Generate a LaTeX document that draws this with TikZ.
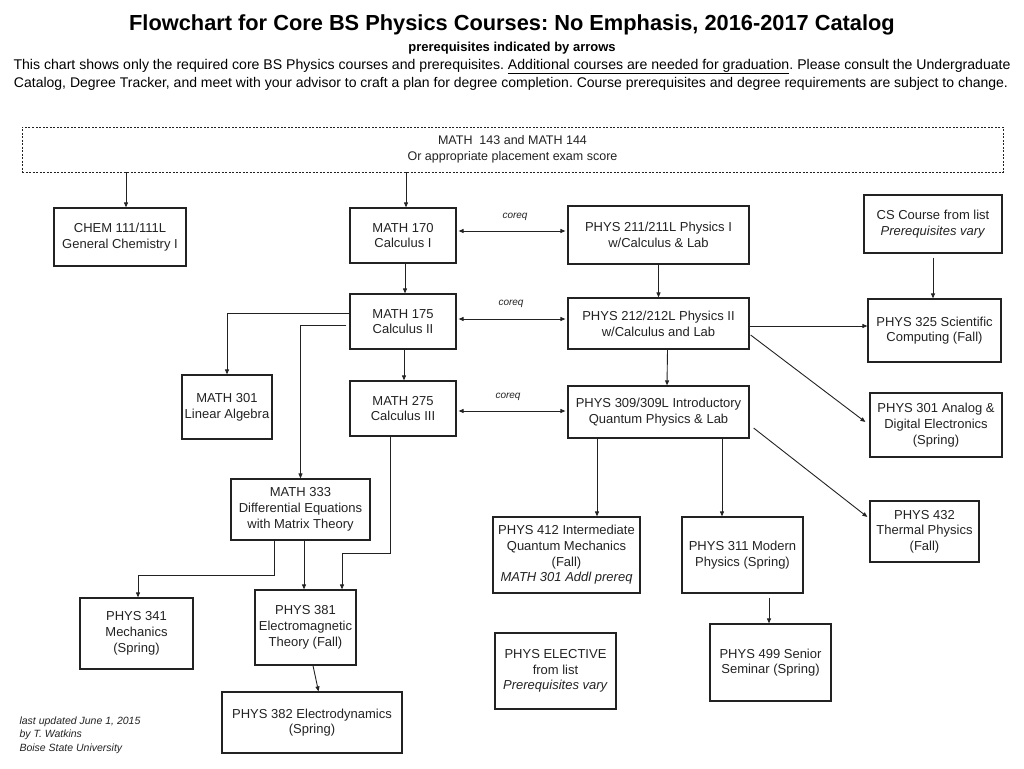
\documentclass[tikz,border=0pt]{standalone}
\usepackage{fontspec}
\setmainfont{Liberation Sans}
\usetikzlibrary{arrows.meta,calc}
\definecolor{ink}{HTML}{222222}
\tikzset{
  box/.style={draw=ink, line width=1.2pt, align=center, inner xsep=1pt, inner ysep=2pt,
    font=\fontsize{13}{15.7}\selectfont, text=ink},
  arr/.style={draw=ink, line width=0.9pt, -{Triangle[length=5pt,width=4pt]}},
  darr/.style={draw=ink, line width=0.9pt, {Triangle[length=5pt,width=4pt]}-{Triangle[length=5pt,width=4pt]}, shorten <=2pt, shorten >=2pt},
  coreqlbl/.style={font=\fontsize{10}{12}\selectfont\itshape, text=ink},
  tbox/.style={draw=ink, line width=0.9pt, dash pattern=on 2pt off 1.5pt, align=center,
    font=\fontsize{12.5}{15.5}\selectfont, text=ink}
}
\frenchspacing
\begin{document}
\begin{tikzpicture}[x=1pt,y=-1pt]
\useasboundingbox (0,0) rectangle (1024,768);
% heading
\node[font=\fontsize{21.8}{24}\selectfont\bfseries, text=black] (title) at (512,25) {Flowchart for Core BS Physics Courses: No Emphasis, 2016-2017 Catalog};
\node[font=\fontsize{13}{15}\selectfont\bfseries, text=black] (sub) at (512,48) {prerequisites indicated by arrows};
\node[font=\fontsize{14.1}{17}\selectfont, text=black, anchor=center] (intro1) at (512,66.5) {This chart shows only the required core BS Physics courses and prerequisites. \underline{Additional courses are needed for graduation}. Please consult the Undergraduate};
\node[font=\fontsize{14}{17}\selectfont, text=black, anchor=center] (intro2) at (511,83.5) {Catalog, Degree Tracker, and meet with your advisor to craft a plan for degree completion. Course prerequisites and degree requirements are subject to change.};
% top box
\node[tbox, minimum width=981pt, minimum height=45pt] (top) at (512.5,149.5) {MATH\ \ 143 and MATH 144\\Or appropriate placement exam score};
% boxes
\node[box, minimum width=132pt, minimum height=58pt] (chem) at (120,237) {CHEM 111/111L\\General Chemistry I};
\node[box, minimum width=106pt, minimum height=55pt] (m170) at (403,235.5) {MATH 170\\Calculus I};
\node[box, minimum width=106pt, minimum height=55pt] (m175) at (403,321.5) {MATH 175\\Calculus II};
\node[box, minimum width=106pt, minimum height=55pt] (m275) at (403,408.5) {MATH 275\\Calculus III};
\node[box, inner xsep=0pt, minimum width=90pt, minimum height=64pt] (m301) at (227,407) {MATH 301\\Linear Algebra};
\node[box, minimum width=139pt, minimum height=61pt] (m333) at (300.5,509.5) {MATH 333\\Differential Equations\\with Matrix Theory};
\node[box, minimum width=113pt, minimum height=71pt] (p341) at (136.5,633.5) {PHYS 341\\Mechanics\\(Spring)};
\node[box, minimum width=101pt, minimum height=75pt] (p381) at (305.5,627.5) {PHYS 381\\Electromagnetic\\Theory (Fall)};
\node[box, minimum width=180pt, minimum height=61pt] (p382) at (312,722.5) {PHYS 382 Electrodynamics\\(Spring)};
\node[box, minimum width=181pt, minimum height=58pt] (p211) at (658.5,235) {PHYS 211/211L Physics I\\w/Calculus \& Lab};
\node[box, minimum width=181pt, minimum height=51pt] (p212) at (658.5,323.5) {PHYS 212/212L Physics II\\w/Calculus and Lab};
\node[box, minimum width=181pt, minimum height=52pt] (p309) at (658.5,412) {PHYS 309/309L Introductory\\Quantum Physics \& Lab};
\node[box, minimum width=138pt, minimum height=58pt] (cs) at (933,224) {CS Course from list\\\textit{Prerequisites vary}};
\node[box, minimum width=133pt, minimum height=63pt] (p325) at (934.5,330.5) {PHYS 325 Scientific\\Computing (Fall)};
\node[box, minimum width=132pt, minimum height=64pt] (p301) at (936,425) {PHYS 301 Analog \&\\Digital Electronics\\(Spring)};
\node[box, minimum width=109pt, minimum height=61pt] (p432) at (924.5,531.5) {PHYS 432\\Thermal Physics\\(Fall)};
\node[box, minimum width=147pt, minimum height=76pt] (p412) at (566.5,555) {PHYS 412 Intermediate\\Quantum Mechanics\\(Fall)\\\textit{MATH 301 Addl prereq}};
\node[box, minimum width=121pt, minimum height=76pt] (p311) at (742.5,555) {PHYS 311 Modern\\Physics (Spring)};
\node[box, minimum width=121pt, minimum height=77pt] (p499) at (770.5,662.5) {PHYS 499 Senior\\Seminar (Spring)};
\node[box, minimum width=121pt, minimum height=76pt] (pel) at (555.5,671) {PHYS ELECTIVE\\from list\\\textit{Prerequisites vary}};
% coreq labels
\node[coreqlbl] (c1) at (515,217) {coreq};
\node[coreqlbl] (c2) at (511,304) {coreq};
\node[coreqlbl] (c3) at (508,397) {coreq};
% footer
\node[font=\fontsize{10.5}{13.5}\selectfont\itshape, text=ink, align=left, anchor=north west] (foot) at (16,713) {last updated June 1, 2015\\by T. Watkins\\Boise State University};
% connectors
\draw[arr] ([xshift=6pt]chem.north |- top.south) -- ([xshift=6pt]chem.north);
\draw[arr] ([xshift=3pt]m170.north |- top.south) -- ([xshift=3pt]m170.north);
\draw[arr] ([xshift=2pt]m170.south) -- ([xshift=2pt]m175.north);
\draw[arr] ([xshift=1pt]m175.south) -- ([xshift=1pt]m275.north);
\draw[arr] ([yshift=8.5pt]m175.west) -| (m301.north);
\draw[arr] ([yshift=-3.5pt,xshift=-3pt]m175.west) -| (m333.north);
\draw[arr] ([xshift=-13pt]m275.south) |- ([xshift=36.5pt,yshift=36pt]p381.north) -- ([xshift=36.5pt]p381.north);
\draw[arr] ([xshift=3.5pt]m333.south) -- ([xshift=-1.5pt]p381.north);
\draw[arr] ([xshift=-26.5pt]m333.south) |- ([xshift=1.5pt,yshift=22pt]p341.north) -- ([xshift=1.5pt]p341.north);
\draw[arr] ([xshift=7.5pt]p381.south) -- ([xshift=6.5pt]p382.north);
\draw[darr] ([yshift=4.5pt]m170.east) -- ([yshift=4.5pt]m170.east -| p211.west);
\draw[darr] ([yshift=2.5pt]m175.east) -- ([yshift=2.5pt]m175.east -| p212.west);
\draw[darr] ([yshift=-2.5pt]m275.east) -- ([yshift=-2.5pt]m275.east -| p309.west);
\draw[arr] (p211.south) -- (p212.north);
\draw[arr] ([xshift=9pt]p212.south) -- ([xshift=8.5pt]p309.north);
\draw[arr] ([yshift=-4pt]cs.south) -- (cs.south |- p325.north);
\draw[arr] ([yshift=-2.5pt]p212.east) -- ([yshift=-2.5pt]p212.east -| p325.west);
\draw[arr] ([xshift=1pt,yshift=-11.5pt]p212.east) -- ([xshift=-4pt,yshift=3pt]p301.west);
\draw[arr] ([xshift=4pt,yshift=-16pt]p309.east) -- ([xshift=-2pt,yshift=14.5pt]p432.west);
\draw[arr] ([xshift=-61.5pt]p309.south) -- ([xshift=-61.5pt]p309.south |- p412.north);
\draw[arr] ([xshift=63.5pt]p309.south) -- ([xshift=63.5pt]p309.south |- p311.north);
\draw[arr] ([xshift=26.5pt,yshift=-4pt]p311.south) -- ([xshift=26.5pt]p311.south |- p499.north);
\end{tikzpicture}
\end{document}
